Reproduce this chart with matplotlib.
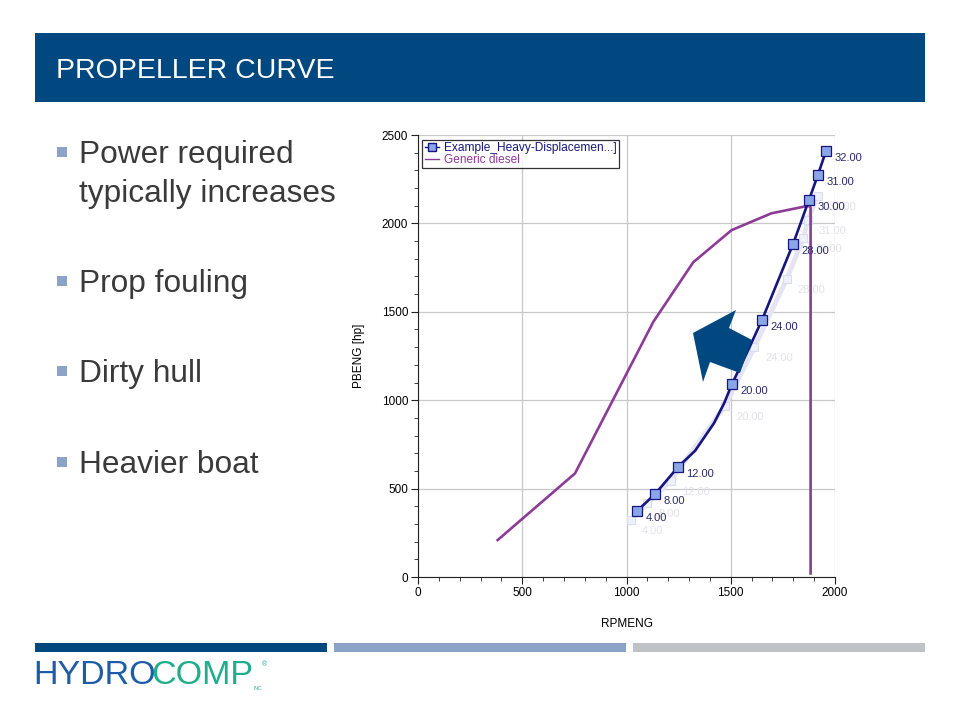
import numpy as np
import matplotlib
matplotlib.use("Agg")
import matplotlib.pyplot as plt
from matplotlib.patches import Rectangle, Polygon
from matplotlib.ticker import MultipleLocator

plt.rcParams['font.family'] = ['Liberation Sans', 'DejaVu Sans']

# Propeller curve (speed labels in knots)
speeds = ["4.00", "8.00", "12.00", "20.00", "24.00", "28.00", "30.00", "31.00", "32.00"]
prop_rpm = [1050, 1137, 1247, 1506, 1650, 1799, 1875, 1918, 1957]
prop_hp = [373, 469, 622, 1092, 1454, 1884, 2132, 2274, 2410]
# extra points
curve_rpm = [1050, 1137, 1247, 1329, 1419, 1468, 1506, 1576, 1650, 1799, 1875, 1918, 1957]
curve_hp = [373, 469, 622, 714, 869, 982, 1092, 1264, 1454, 1884, 2132, 2274, 2410]

# faint earlier curve behind it
ghost_rpm = [1020, 1100, 1212, 1472, 1613, 1768, 1848, 1869, 1917]
ghost_hp = [322, 417, 545, 967, 1299, 1684, 1916, 2019, 2155]
ghost_labels = ["4.00", "8.00", "12.00", "20.00", "24.00", "28.00", "30.00", "31.00", "32.00"]

# engine curve
diesel_rpm = [382, 753, 1129, 1320, 1504, 1695, 1873, 1883, 1883]
diesel_hp = [209, 586, 1444, 1780, 1962, 2057, 2100, 2090, 20]

bullet_lines = ["Power required", "typically increases", "Prop fouling", "Dirty hull", "Heavier boat"]
line_base = [163, 202, 292, 382, 473]
has_bullet = [True, False, True, True, True]

navy = "#16167e"
purple = "#8c3c96"
header = "#00487f"

fig = plt.figure(figsize=(9.6, 7.2), dpi=100)

def px(x, y):
    return x / 960, 1 - y / 720

# header bar and title
fig.add_artist(Rectangle(px(35, 102), 890 / 960, 69 / 720, transform=fig.transFigure,
                         facecolor=header, edgecolor="none"))
fig.text(*px(56, 78), "PROPELLER CURVE", color="white", fontsize=20.5, va="baseline")

# bullet list
for txt, y, b in zip(bullet_lines, line_base, has_bullet):
    if b:
        fig.add_artist(Rectangle(px(57, y - 6), 10 / 960, 10 / 720, transform=fig.transFigure,
                                 facecolor="#8ba3c7", edgecolor="none"))
    fig.text(*px(79, y), txt, color="#3a3a3a", fontsize=22.8, va="baseline")

# footer bars
for x0, c in zip([35, 334, 633], [header, "#8ba3c7", "#bfc3c8"]):
    fig.add_artist(Rectangle(px(x0, 652), 292 / 960, 9 / 720, transform=fig.transFigure,
                             facecolor=c, edgecolor="none"))

# logo
fig.text(*px(33, 684), "HYDRO", color="#1f5ca8", fontsize=24.5, va="baseline")
fig.text(*px(151, 684), "COMP", color="#1fae8c", fontsize=24.5, va="baseline")
fig.text(*px(262, 666), "®", color="#1fae8c", fontsize=5, va="baseline")
fig.text(*px(253, 690), "INC.", color="#1fae8c", fontsize=3.5, va="baseline")

# chart
ax = fig.add_axes([418 / 960, 1 - 577 / 720, 417 / 960, 442 / 720])
ax.set_xlim(0, 2000)
ax.set_ylim(0, 2500)
ax.xaxis.set_major_locator(MultipleLocator(500))
ax.xaxis.set_minor_locator(MultipleLocator(100))
ax.yaxis.set_major_locator(MultipleLocator(500))
ax.yaxis.set_minor_locator(MultipleLocator(100))
ax.grid(True, which="major", color="#c8c8c8", lw=0.9)
ax.set_axisbelow(True)
for s in ["top", "right"]:
    ax.spines[s].set_visible(False)
for s in ["left", "bottom"]:
    ax.spines[s].set_color("#222222")
    ax.spines[s].set_linewidth(0.8)
ax.tick_params(which="both", direction="out", labelsize=8.5, color="#222222", pad=2)
ax.tick_params(which="major", length=5)
ax.tick_params(which="minor", length=3)
ax.set_xlabel("RPMENG", fontsize=8.5, labelpad=14)
ax.set_ylabel("PBENG [hp]", fontsize=8.5, labelpad=12)

# faint earlier curve
ax.plot(ghost_rpm, ghost_hp, color="#e4e4f3", lw=3.5, zorder=2)
ax.plot(ghost_rpm, ghost_hp, ls="none", marker="s", ms=6, mfc="#eef0fa",
        mec="#dcdcea", mew=0.8, zorder=2)
for r, h, t in zip(ghost_rpm, ghost_hp, ghost_labels):
    ax.annotate(t, (r, h), xytext=(8, -8), textcoords="offset points",
                fontsize=8, color="#e2e2ea", va="center", ha="left", zorder=2)

ax.plot(diesel_rpm, diesel_hp, color=purple, lw=1.9, zorder=3, label="Generic diesel")
ax.plot(curve_rpm, curve_hp, color=navy, lw=1.9, zorder=4)
ax.plot(prop_rpm, prop_hp, ls="none", marker="s", ms=6.5, mfc="#8aa6e6",
        mec=navy, mew=0.9, zorder=5)
for r, h, t in zip(prop_rpm, prop_hp, speeds):
    ax.annotate(t, (r, h), xytext=(6, -5), textcoords="offset points",
                fontsize=8, color="#2a2a6a", va="center", ha="left", zorder=6)

# legend
h1, = ax.plot([], [], color=navy, lw=1, marker="s", ms=5.5, mfc="#8aa6e6", mec=navy)
h2, = ax.plot([], [], color=purple, lw=1)
leg = ax.legend([h1, h2], ["Example_Heavy-Displacemen...]", "Generic diesel"],
                loc="upper left", bbox_to_anchor=(0.005, 0.995), fontsize=8.6,
                frameon=True, fancybox=False, handlelength=1.2, handletextpad=0.4,
                borderpad=0.2, labelspacing=0.0, borderaxespad=0.2)
leg.get_frame().set_edgecolor("black")
leg.get_frame().set_linewidth(0.9)
for t, c in zip(leg.get_texts(), [navy, purple]):
    t.set_color(c)

# block arrow
arrow_px = [(693, 333), (736, 310), (729, 328), (752, 340),
            (740, 373), (710, 362), (703, 382)]
fig.add_artist(Polygon([px(x, y) for x, y in arrow_px], closed=True,
                       transform=fig.transFigure, facecolor=header,
                       edgecolor="none", zorder=10))

fig.savefig("out.png", dpi=100)
